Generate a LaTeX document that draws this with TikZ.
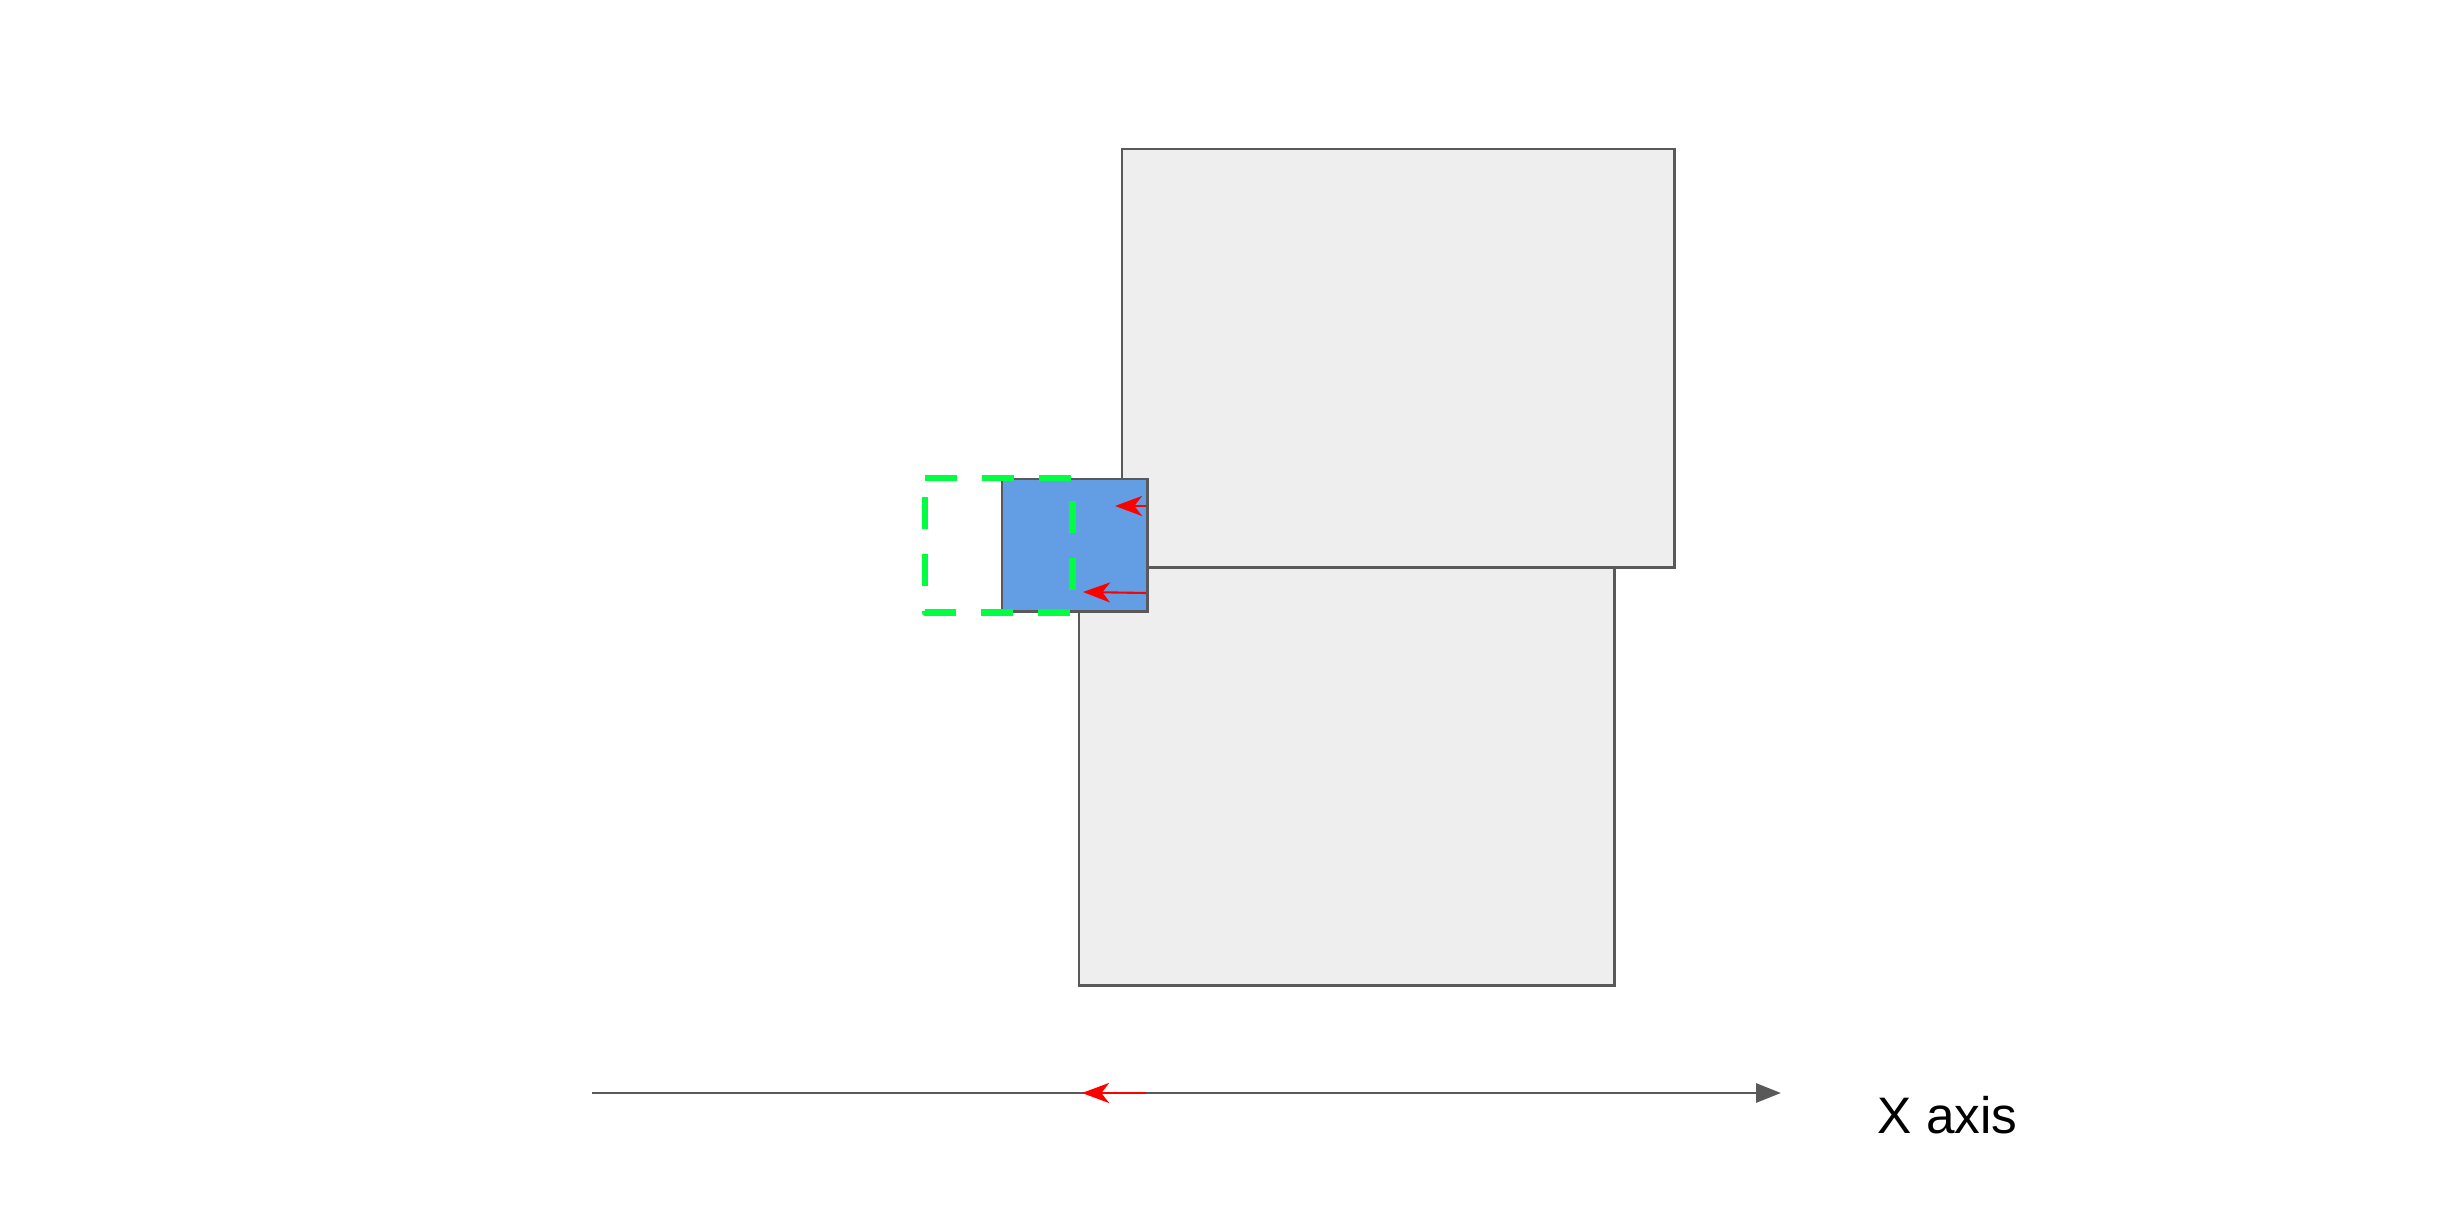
\documentclass[tikz,border=0pt]{standalone}
\usepackage{fontspec}
\setmainfont{Liberation Sans}
\definecolor{edgegray}{RGB}{89, 89, 89}
\definecolor{boxgray}{RGB}{238, 238, 238}
\definecolor{movblue}{RGB}{99, 157, 227}
\definecolor{ghostgreen}{RGB}{0, 255, 64}
\definecolor{pushred}{RGB}{255, 0, 0}
\usetikzlibrary{arrows.meta, positioning, calc}

\begin{document}
\begin{tikzpicture}[x=0.01cm, y=-0.01cm,
    wall/.style={draw=edgegray, fill=boxgray, line width=0.7pt, minimum height=4.18cm, anchor=north west, inner sep=0pt},
    mover/.style={draw=edgegray, fill=movblue, line width=0.7pt, minimum width=1.45cm, minimum height=1.32cm, anchor=north west, inner sep=0pt},
    ghostline/.style={draw=ghostgreen, line width=1.9pt, dash pattern=on 9.1pt off 7.1pt, line join=round},
    push/.style={draw=pushred, line width=0.6pt, -{Stealth[length=7.7pt, width=5.7pt, inset=2.2pt]}},
    axisline/.style={draw=edgegray, line width=0.8pt, -{Triangle[length=7.1pt, width=5.4pt]}}]
  \useasboundingbox (0,0) rectangle (2442,1228);
  \node[wall, minimum width=5.35cm] (lower) at (1078,566) {};
  \node[wall, minimum width=5.52cm] (upper) at (1121,148) {};
  \node[mover] (block) at (1001,478) {};
  \node[mover, draw=none, fill=none] (ghost) at (925,478) {};
  \draw[ghostline] (ghost.north west) -- (ghost.north east) -- (ghost.south east) -- (ghost.south west) -- cycle;
  \coordinate (tailA) at (1146,506);
  \coordinate (tipA) at (1115,506);
  \coordinate (tailB) at (1146,593);
  \coordinate (tipB) at (1083,592);
  \draw[push] (tailA) -- (tipA);
  \draw[push] (tailB) -- (tipB);
  \coordinate (axstart) at (592,1093);
  \coordinate (axend) at (1781,1093);
  \draw[axisline] (axstart) -- (axend);
  \coordinate (tailX) at (1146,1093);
  \coordinate (tipX) at (1082,1093);
  \draw[push] (tailX) -- (tipX);
  \node[anchor=base west, inner sep=0pt, font=\fontsize{14.6}{17}\selectfont] (xlabel) at (1877,1133) {X axis};
\end{tikzpicture}
\end{document}
